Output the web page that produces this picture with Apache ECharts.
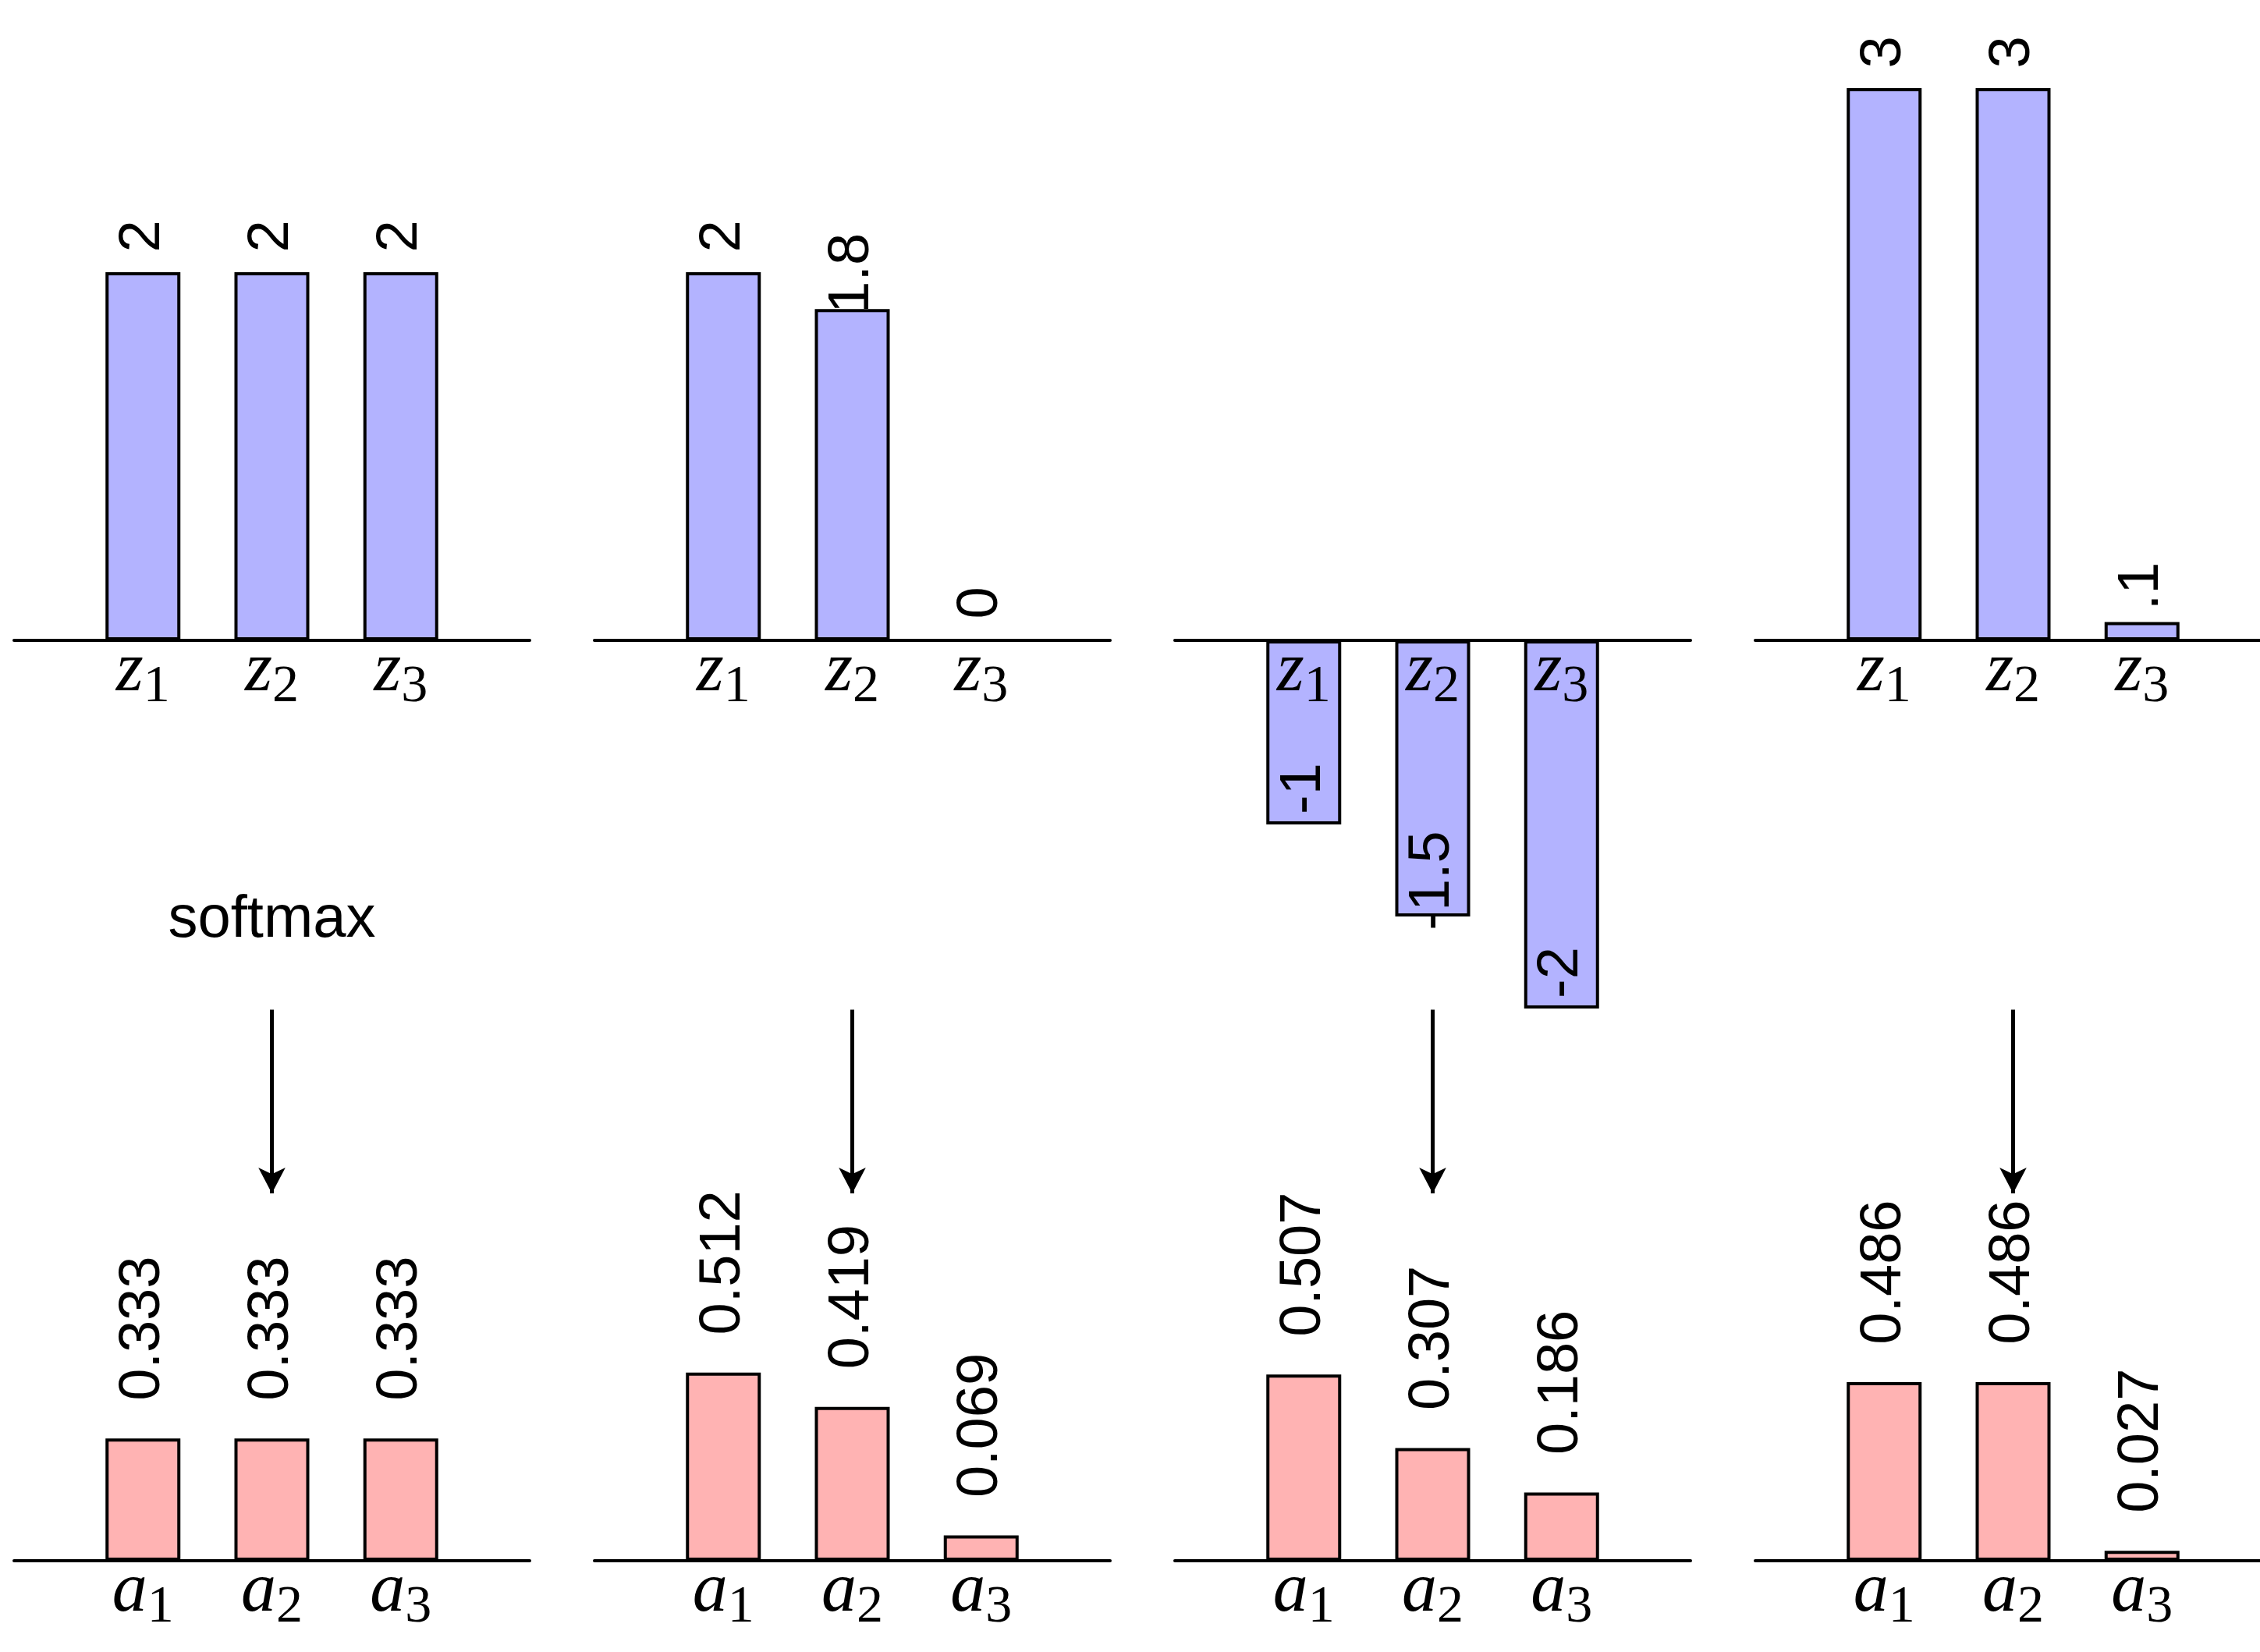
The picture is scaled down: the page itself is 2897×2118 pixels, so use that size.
<!DOCTYPE html>
<html>
<head>
<meta charset="utf-8">
<script src="https://cdn.jsdelivr.net/npm/echarts@6/dist/echarts.min.js"></script>
<style>
    html, body { margin: 0; padding: 0; background: #fff; }
    #chart { width: 2897px; height: 2118px; }
</style>
</head>
<body>
<div id="chart"></div>
<script>
// logits (top row) and their softmax (bottom row), one entry per panel
let zNames = ['z_1', 'z_2', 'z_3'];
let aNames = ['a_1', 'a_2', 'a_3'];
let zValues = [
    [2, 2, 2],
    [2, 1.8, 0],
    [-1, -1.5, -2],
    [3, 3, 0.1]
];
let aValues = [
    [0.333, 0.333, 0.333],
    [0.512, 0.419, 0.069],
    [0.507, 0.307, 0.186],
    [0.486, 0.486, 0.027]
];
let arrowFrom = 1.5;   // arrow start / end, in softmax-axis units
let arrowTo = 1.0;
let arrowText = 'softmax';

const PANEL_LEFT = 18, PANEL_STEP = 744, PANEL_W = 661;
const Z_ZERO = 821, Z_UNIT = 236;      // px of the logit baseline, px per unit
const A_ZERO = 2001, A_UNIT = 471;
const BLUE = '#b3b3ff', RED = '#ffb3b3';
const NUM_FONT = 'Liberation Sans';

function tickFormatter(names) {
    return function (v) {
        let n = names[v - 1];
        if (!n) return '';
        let p = n.split('_');
        return '{v|' + p[0] + '}{s|' + p[1] + '}';
    }
}

let tickRich = {
    v: {fontFamily: 'Liberation Serif', fontStyle: 'italic', fontSize: 90, lineHeight: 60,
        verticalAlign: 'bottom', padding: [0, 0, 9, 0], color: '#000'},
    s: {fontFamily: 'Liberation Serif', fontSize: 68, lineHeight: 50,
        verticalAlign: 'bottom', color: '#000'}
};

let grids = [], xAxes = [], yAxes = [], series = [];

// one panel = one grid; the x axis always sits on the value 0
function addPanel(col, names, vals, color, isTop) {
    let k = grids.length;
    let allNeg = vals.every(v => v < 0);
    let zero = isTop ? Z_ZERO : A_ZERO, unit = isTop ? Z_UNIT : A_UNIT;
    let lo = allNeg ? -2 : 0;
    let hi = allNeg ? 0 : (isTop ? 3 : 1.6);
    grids.push({
        left: PANEL_LEFT + col * PANEL_STEP, width: PANEL_W,
        top: zero - hi * unit, height: (hi - lo) * unit,
        outerBoundsMode: 'none', containLabel: false
    });
    xAxes.push({
        gridIndex: k, type: 'value', min: 0, max: 4, interval: 1, z: 5,
        position: allNeg ? 'top' : 'bottom',
        axisLine: {onZero: false, lineStyle: {color: '#000', width: 4}},
        axisTick: {show: false}, splitLine: {show: false},
        axisLabel: {inside: allNeg, margin: 34, formatter: tickFormatter(names), rich: tickRich}
    });
    yAxes.push({gridIndex: k, type: 'value', min: lo, max: hi, show: false});
    let s = {
        type: 'bar', xAxisIndex: k, yAxisIndex: k, silent: true, barWidth: 96,
        data: vals.map((v, i) => [i + 1, v]),
        itemStyle: {color: color, borderColor: '#000', borderWidth: 4},
        label: {
            show: true, rotate: 90, align: 'center', verticalAlign: 'middle',
            position: allNeg ? 'insideBottom' : 'top',
            distance: isTop ? 46 : 141,
            fontFamily: NUM_FONT, fontSize: 74, color: '#000',
            formatter: isTop
                ? p => String(p.value[1]).replace(/^0\./, '.')
                : p => p.value[1].toFixed(3)
        }
    };
    if (!isTop) {
        s.markLine = {
            silent: true, animation: false,
            symbol: ['none', 'arrow'], symbolSize: 26,
            label: {show: false},
            lineStyle: {color: '#000', width: 5, type: 'solid'},
            data: [[{coord: [2, arrowFrom]}, {coord: [2, arrowTo], symbolSize: [26, 33]}]]
        };
    }
    series.push(s);
}

for (let c = 0; c < zValues.length; c++) {
    addPanel(c, zNames, zValues[c], BLUE, true);
    addPanel(c, aNames, aValues[c], RED, false);
}

let chart = echarts.init(document.getElementById('chart'), null, {renderer: 'canvas'});
chart.setOption({
    animation: false,
    backgroundColor: '#fff',
    grid: grids,
    xAxis: xAxes,
    yAxis: yAxes,
    series: series,
    graphic: [{
        type: 'text', silent: true,
        x: PANEL_LEFT + PANEL_W / 2, y: 1180,
        style: {text: arrowText, font: '76px "Liberation Sans"', fill: '#000',
            align: 'center', verticalAlign: 'middle'}
    }]
});
</script>
</body>
</html>
